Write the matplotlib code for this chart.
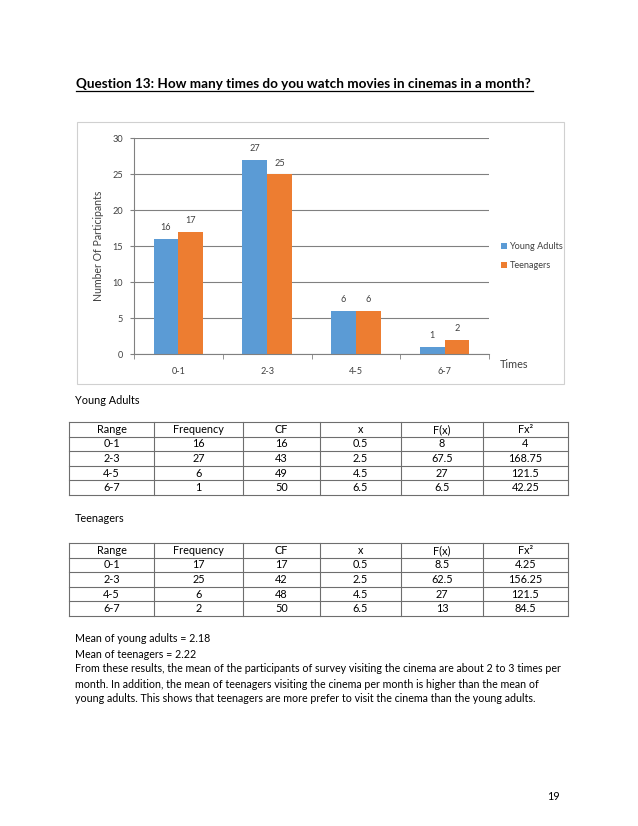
import matplotlib
matplotlib.use('Agg')
import matplotlib.pyplot as plt
from matplotlib.patches import Rectangle
import numpy as np

plt.rcParams['font.family'] = ['Lato', 'DejaVu Sans']

# data
categories = ['0-1', '2-3', '4-5', '6-7']
young_adults = [16, 27, 6, 1]
teenagers = [17, 25, 6, 2]

headers = ['Range', 'Frequency', 'CF', 'x', 'F(x)', 'Fx²']
ya_cf = [16, 43, 49, 50]
ya_x = ['0.5', '2.5', '4.5', '6.5']
ya_fx = ['8', '67.5', '27', '6.5']
ya_fx2 = ['4', '168.75', '121.5', '42.25']
te_cf = [17, 42, 48, 50]
te_x = ['0.5', '2.5', '4.5', '6.5']
te_fx = ['8.5', '62.5', '27', '13']
te_fx2 = ['4.25', '156.25', '121.5', '84.5']

text_lines = [
    'Mean of young adults = 2.18',
    'Mean of teenagers = 2.22',
    'From these results, the mean of the participants of survey visiting the cinema are about 2 to 3 times per',
    'month. In addition, the mean of teenagers visiting the cinema per month is higher than the mean of',
    'young adults. This shows that teenagers are more prefer to visit the cinema than the young adults.',
]

W, H = 638, 826
fig = plt.figure(figsize=(W / 100, H / 100), dpi=100)
fig.patch.set_facecolor('white')

def fx(x):
    return x / W

def fy(y):
    return 1 - y / H

# page overlay in pixel coords
page = fig.add_axes([0, 0, 1, 1])
page.set_xlim(0, W)
page.set_ylim(H, 0)
page.axis('off')

# title
page.text(76, 84, 'Question 13: How many times do you watch movies in cinemas in a month?',
          fontsize=9.75, fontweight='bold', va='center', ha='left')
page.plot([76, 533], [91, 91], color='black', lw=0.9)

# chart frame
page.add_patch(Rectangle((77, 122), 487, 262, fill=False, ec='#d0d0d0', lw=0.8))

# chart
ax = fig.add_axes([fx(134), fy(354), fx(489) - fx(134), fy(138) - fy(354)])
blue = '#5b9bd5'
orange = '#ed7d31'
xpos = np.arange(len(categories))
bw = 0.28
b1 = ax.bar(xpos - bw / 2, young_adults, bw, color=blue, label='Young Adults')
b2 = ax.bar(xpos + bw / 2, teenagers, bw, color=orange, label='Teenagers')
for bars in (b1, b2):
    for b in bars:
        ax.text(b.get_x() + b.get_width() / 2, b.get_height() + 0.9, str(int(b.get_height())),
                ha='center', va='bottom', fontsize=6.6, color='#404040')

ax.set_xlim(-0.5, 3.5)
ax.set_ylim(0, 30)
ax.set_yticks(range(0, 31, 5))
ax.yaxis.grid(True, color='#808080', lw=0.8)
ax.set_axisbelow(True)
for s in ['top', 'right']:
    ax.spines[s].set_visible(False)
ax.spines['left'].set_color('#808080')
ax.spines['bottom'].set_color('#808080')
ax.set_xticks(xpos)
ax.set_xticklabels(categories)
ax.set_xticks(np.arange(-0.5, 4, 1), minor=True)
ax.tick_params(axis='x', which='major', length=0, labelsize=6.6, pad=9, colors='#404040')
ax.tick_params(axis='x', which='minor', length=3.5, color='#808080')
ax.tick_params(axis='y', length=3, color='#808080', labelsize=6.6, labelcolor='#404040', pad=5)
ax.set_ylabel('Number Of Participants', fontsize=7.6, color='#404040', labelpad=6)

leg = ax.legend(loc='center left', bbox_to_anchor=(fx(493), fy(256)), bbox_transform=fig.transFigure,
                frameon=False, fontsize=6.6, handlelength=0.6, handleheight=0.6,
                handletextpad=0.3, labelspacing=1.1, labelcolor='#404040')

page.text(500, 364, 'Times', fontsize=7.8, va='center', ha='left', color='#404040')

# tables
cols = [69, 154, 243, 320, 401, 483, 568]
centers = [(cols[i] + cols[i + 1]) / 2 for i in range(len(cols) - 1)]

def draw_table(top, bottom, rows):
    rh = (bottom - top) / (len(rows) + 1)
    for i in range(len(rows) + 2):
        page.plot([cols[0], cols[-1]], [top + i * rh] * 2, color='#6e6e6e', lw=0.8)
    for c in cols:
        page.plot([c, c], [top, bottom], color='#6e6e6e', lw=0.8)
    for j, h in enumerate(headers):
        page.text(centers[j], top + rh / 2, h, ha='center', va='center', fontsize=7.8)
    for i, row in enumerate(rows):
        for j, v in enumerate(row):
            page.text(centers[j], top + (i + 1.5) * rh, str(v), ha='center', va='center', fontsize=7.8)

ya_rows = list(zip(categories, young_adults, ya_cf, ya_x, ya_fx, ya_fx2))
te_rows = list(zip(categories, teenagers, te_cf, te_x, te_fx, te_fx2))

page.text(75, 401, 'Young Adults', fontsize=7.8, va='center', ha='left')
draw_table(422, 495, ya_rows)
page.text(75, 518, 'Teenagers', fontsize=7.8, va='center', ha='left')
draw_table(543, 616, te_rows)

line_y = [638, 654, 669, 684, 699]
for t, y in zip(text_lines, line_y):
    page.text(75, y, t, fontsize=7.7, va='center', ha='left')

page.text(560, 797, '19', fontsize=7.8, va='center', ha='right')

fig.savefig('out.png', dpi=100, facecolor='white')
